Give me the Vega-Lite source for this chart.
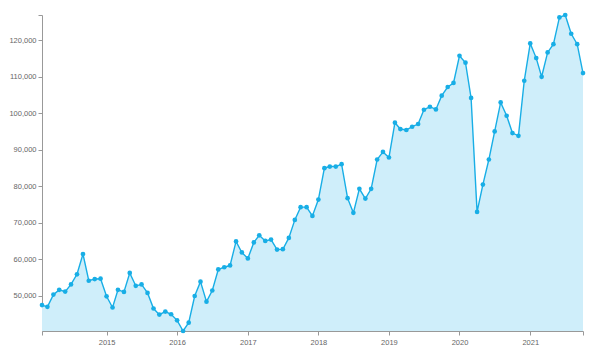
{
  "$schema": "https://vega.github.io/schema/vega-lite/v6.json",
  "width": 541,
  "height": 316,
  "autosize": {"type": "none"},
  "padding": {"left": 42, "top": 15, "right": 19, "bottom": 21},
  "background": "white",
  "config": {"view": {"stroke": null}},
  "data": {
    "values": [
      {"date": "2014-02-01", "value": 47500},
      {"date": "2014-03-01", "value": 47040},
      {"date": "2014-04-01", "value": 50370},
      {"date": "2014-05-01", "value": 51670},
      {"date": "2014-06-01", "value": 51200},
      {"date": "2014-07-01", "value": 53150},
      {"date": "2014-08-01", "value": 55930},
      {"date": "2014-09-01", "value": 61480},
      {"date": "2014-10-01", "value": 54170},
      {"date": "2014-11-01", "value": 54630},
      {"date": "2014-12-01", "value": 54720},
      {"date": "2015-01-01", "value": 49900},
      {"date": "2015-02-01", "value": 46850},
      {"date": "2015-03-01", "value": 51670},
      {"date": "2015-04-01", "value": 51110},
      {"date": "2015-05-01", "value": 56300},
      {"date": "2015-06-01", "value": 52780},
      {"date": "2015-07-01", "value": 53150},
      {"date": "2015-08-01", "value": 50830},
      {"date": "2015-09-01", "value": 46570},
      {"date": "2015-10-01", "value": 44900},
      {"date": "2015-11-01", "value": 45740},
      {"date": "2015-12-01", "value": 45000},
      {"date": "2016-01-01", "value": 43330},
      {"date": "2016-02-01", "value": 40420},
      {"date": "2016-03-01", "value": 42690},
      {"date": "2016-04-01", "value": 50000},
      {"date": "2016-05-01", "value": 53920},
      {"date": "2016-06-01", "value": 48440},
      {"date": "2016-07-01", "value": 51500},
      {"date": "2016-08-01", "value": 57250},
      {"date": "2016-09-01", "value": 57860},
      {"date": "2016-10-01", "value": 58350},
      {"date": "2016-11-01", "value": 64920},
      {"date": "2016-12-01", "value": 61900},
      {"date": "2017-01-01", "value": 60260},
      {"date": "2017-02-01", "value": 64650},
      {"date": "2017-03-01", "value": 66600},
      {"date": "2017-04-01", "value": 65060},
      {"date": "2017-05-01", "value": 65420},
      {"date": "2017-06-01", "value": 62680},
      {"date": "2017-07-01", "value": 62790},
      {"date": "2017-08-01", "value": 65880},
      {"date": "2017-09-01", "value": 70810},
      {"date": "2017-10-01", "value": 74290},
      {"date": "2017-11-01", "value": 74290},
      {"date": "2017-12-01", "value": 71900},
      {"date": "2018-01-01", "value": 76370},
      {"date": "2018-02-01", "value": 84960},
      {"date": "2018-03-01", "value": 85400},
      {"date": "2018-04-01", "value": 85400},
      {"date": "2018-05-01", "value": 86060},
      {"date": "2018-06-01", "value": 76750},
      {"date": "2018-07-01", "value": 72730},
      {"date": "2018-08-01", "value": 79300},
      {"date": "2018-09-01", "value": 76640},
      {"date": "2018-10-01", "value": 79300},
      {"date": "2018-11-01", "value": 87320},
      {"date": "2018-12-01", "value": 89400},
      {"date": "2019-01-01", "value": 87870},
      {"date": "2019-02-01", "value": 97400},
      {"date": "2019-03-01", "value": 95660},
      {"date": "2019-04-01", "value": 95390},
      {"date": "2019-05-01", "value": 96290},
      {"date": "2019-06-01", "value": 97030},
      {"date": "2019-07-01", "value": 100930},
      {"date": "2019-08-01", "value": 101760},
      {"date": "2019-09-01", "value": 101020},
      {"date": "2019-10-01", "value": 104790},
      {"date": "2019-11-01", "value": 107160},
      {"date": "2019-12-01", "value": 108260},
      {"date": "2020-01-01", "value": 115710},
      {"date": "2020-02-01", "value": 113800},
      {"date": "2020-03-01", "value": 104160},
      {"date": "2020-04-01", "value": 73000},
      {"date": "2020-05-01", "value": 80470},
      {"date": "2020-06-01", "value": 87320},
      {"date": "2020-07-01", "value": 95010},
      {"date": "2020-08-01", "value": 102930},
      {"date": "2020-09-01", "value": 99290},
      {"date": "2020-10-01", "value": 94550},
      {"date": "2020-11-01", "value": 93810},
      {"date": "2020-12-01", "value": 108860},
      {"date": "2021-01-01", "value": 119070},
      {"date": "2021-02-01", "value": 115060},
      {"date": "2021-03-01", "value": 109950},
      {"date": "2021-04-01", "value": 116610},
      {"date": "2021-05-01", "value": 118880},
      {"date": "2021-06-01", "value": 126190},
      {"date": "2021-07-01", "value": 126850},
      {"date": "2021-08-01", "value": 121720},
      {"date": "2021-09-01", "value": 118880},
      {"date": "2021-10-01", "value": 110960}
    ],
    "format": {"parse": {"date": "date:'%Y-%m-%d'"}}
  },
  "encoding": {
    "x": {
      "field": "date",
      "type": "temporal",
      "title": null,
      "axis": {
        "values": [
          {"year": 2014, "month": 2, "date": 1},
          {"year": 2015, "month": 1, "date": 1},
          {"year": 2016, "month": 1, "date": 1},
          {"year": 2017, "month": 1, "date": 1},
          {"year": 2018, "month": 1, "date": 1},
          {"year": 2019, "month": 1, "date": 1},
          {"year": 2020, "month": 1, "date": 1},
          {"year": 2021, "month": 1, "date": 1},
          {"year": 2021, "month": 10, "date": 1}
        ],
        "labelExpr": "month(datum.value) == 0 ? timeFormat(datum.value, '%Y') : ''",
        "grid": false,
        "domainColor": "#999999",
        "tickColor": "#999999",
        "tickSize": 4,
        "labelColor": "#666666",
        "labelFont": "Liberation Sans",
        "labelFontSize": 7.5,
        "labelPadding": 3,
        "labelFlush": false,
        "labelOverlap": false
      }
    },
    "y": {
      "field": "value",
      "type": "quantitative",
      "title": null,
      "stack": null,
      "scale": {"zero": false, "nice": false},
      "axis": {
        "values": [50000, 60000, 70000, 80000, 90000, 100000, 110000, 120000, 126850],
        "labelExpr": "datum.value > 125000 ? '' : format(datum.value, ',')",
        "grid": false,
        "domainColor": "#999999",
        "tickColor": "#999999",
        "tickSize": 4,
        "labelColor": "#666666",
        "labelFont": "Liberation Sans",
        "labelFontSize": 7.5,
        "labelPadding": 2,
        "labelOverlap": false
      }
    }
  },
  "layer": [
    {"mark": {"type": "area", "color": "#cfeefa", "opacity": 1}},
    {"mark": {"type": "line", "color": "#18aee6", "strokeWidth": 1.4}},
    {"mark": {"type": "point", "filled": true, "color": "#18aee6", "opacity": 1, "size": 22}}
  ]
}
